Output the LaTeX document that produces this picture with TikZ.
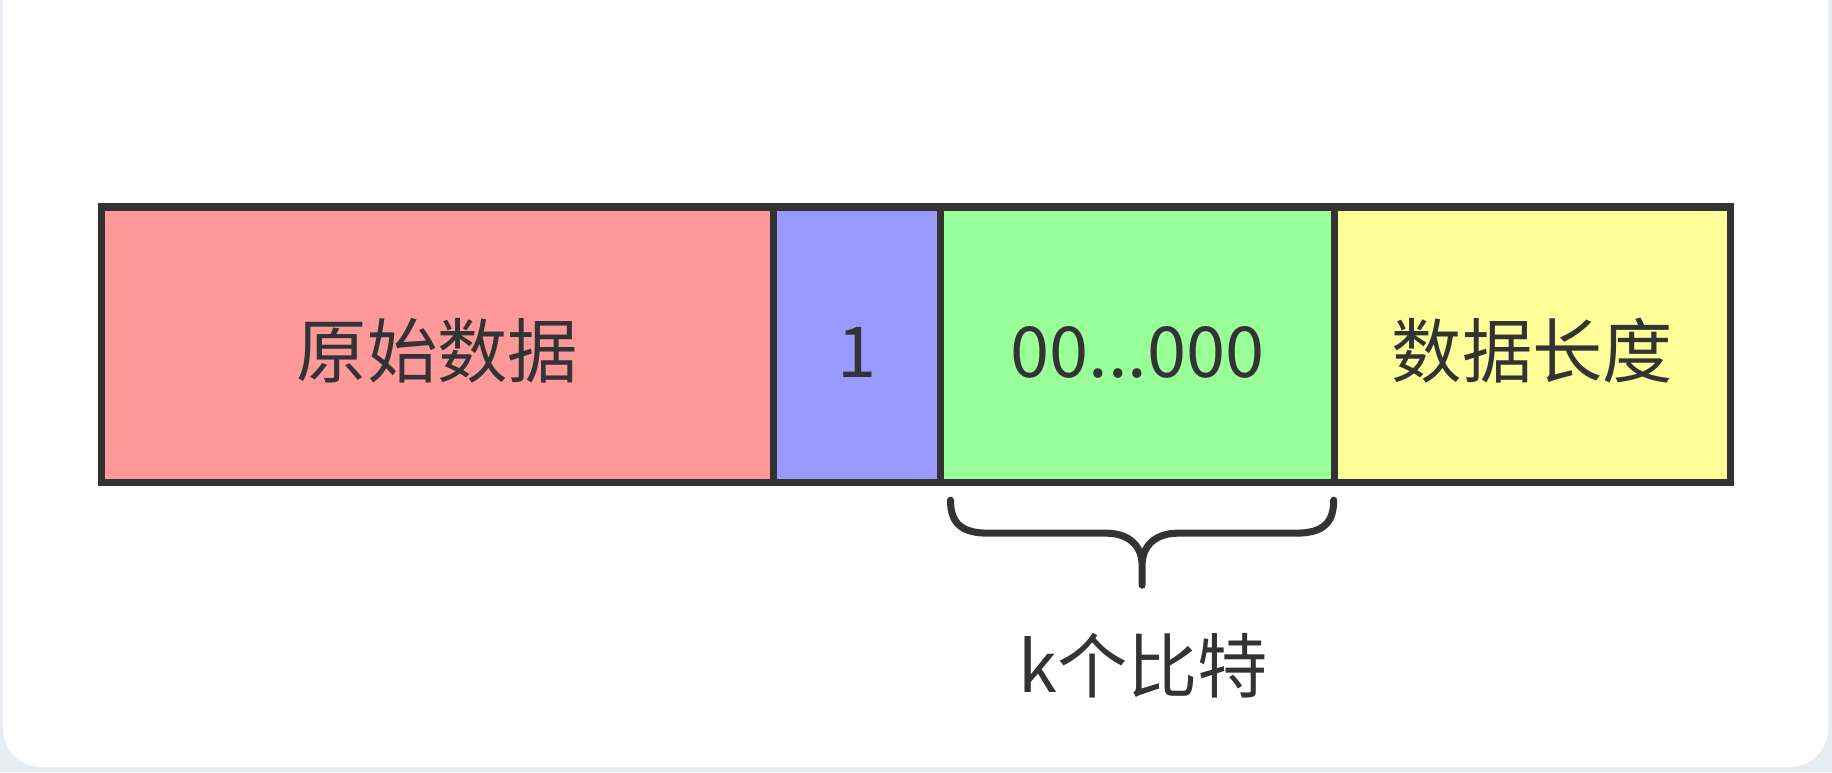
\documentclass[tikz,border=0pt]{standalone}
\usepackage{fontspec}
\setmainfont{Noto Sans CJK SC}
\usepackage{xcolor}
\usetikzlibrary{positioning, calc}
\definecolor{bgpage}{HTML}{E6EDF2}
\definecolor{ink}{HTML}{333333}
\definecolor{rawred}{HTML}{FF9999}
\definecolor{onebl}{HTML}{9999FF}
\definecolor{zerogr}{HTML}{99FF99}
\definecolor{lenyl}{HTML}{FFFF99}
\tikzset{
    field/.style={rectangle, draw=ink, line width=2pt, outer sep=0pt, inner sep=0pt,
        minimum height=2.75cm, text=ink, text height=0.68cm, text depth=0.03cm,
        font=\fontsize{20}{24}\selectfont},
    bracket/.style={draw=ink, line width=2pt, line cap=round, line join=round},
    note/.style={text=ink, inner sep=0pt, text height=0.68cm, text depth=0.03cm,
        font=\fontsize{20}{24}\selectfont}
}
\begin{document}
\begin{tikzpicture}[x=0.01cm, y=-0.01cm]
  % page and card
  \useasboundingbox (0,0) rectangle (1832,772);
  \fill[bgpage] (0,0) rectangle (1832,772);
  \begin{scope}
    \clip (0,0) rectangle (1832,772);
    \fill[white, rounded corners=0.38cm] (3,-40) rectangle (1828,767);
  \end{scope}

  % the padded message
  \node[field, fill=rawred, minimum width=6.715cm, anchor=north west] (raw) at (101.5,207) {原始数据};
  \node[field, fill=onebl, minimum width=1.67cm, right=0pt of raw] (one) {1};
  \node[field, fill=zerogr, minimum width=3.94cm, right=0pt of one] (zeros) {00...000};
  \node[field, fill=lenyl, minimum width=3.955cm, right=0pt of zeros] (len) {数据长度};

  % brace under the zero bits
  \coordinate (bl) at ($(zeros.south west)+(10,18)$);
  \coordinate (br) at ($(zeros.south east)+(-1,18)$);
  \coordinate (tip) at ($(bl)!0.5!(br)+(0,85)$);
  \draw[bracket] (bl) .. controls ($(bl)+(0,24)$) and ($(bl)+(12,33)$) .. ($(bl)+(38,33)$)
    -- ($(tip)+(-36,-52)$) .. controls ($(tip)+(-14,-52)$) and ($(tip)+(0,-40)$) .. ($(tip)+(0,-20)$)
    -- (tip) -- ($(tip)+(0,-20)$)
    .. controls ($(tip)+(0,-40)$) and ($(tip)+(14,-52)$) .. ($(tip)+(36,-52)$)
    -- ($(br)+(-38,33)$) .. controls ($(br)+(-12,33)$) and ($(br)+(0,24)$) .. (br);
  \node[note] (kbits) at ($(tip)+(1,75)$) {k个比特};
\end{tikzpicture}
\end{document}
